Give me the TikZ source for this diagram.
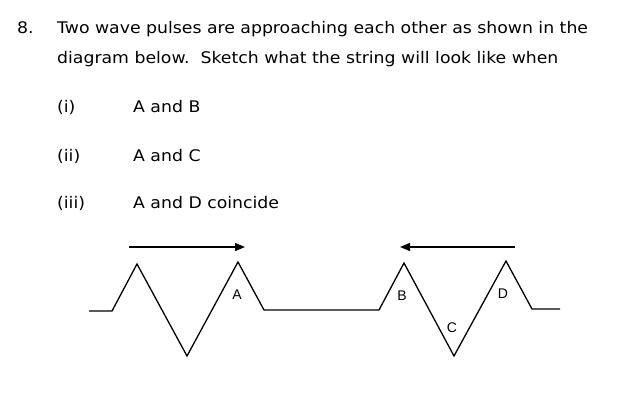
\documentclass[tikz,border=0pt]{standalone}
\usepackage{fontspec}
\setmainfont{DejaVu Sans}[FakeStretch=1.08]
\newfontfamily\labelfont{Liberation Sans}
\usetikzlibrary{arrows.meta}

\begin{document}
\begin{tikzpicture}[x=1pt, y=-1pt,
	txt/.style={anchor=base west, inner sep=0pt, font=\fontsize{16}{19}\selectfont},
	lbl/.style={inner sep=0pt, font=\labelfont\fontsize{14}{16}\selectfont},
	pulse/.style={line width=1.3pt, line join=miter},
	move/.style={line width=1.3pt, -{Triangle[length=10pt, width=8pt]}}]
	\path (0,0) to (625,406);

	% question text
	\node[txt] (num) at (17,34) {8.};
	\node[txt] (line1) at (57,34) {Two wave pulses are approaching each other as shown in the};
	\node[txt] (line2) at (57,64) {diagram below.\ \ Sketch what the string will look like when};

	\node[txt] (i) at (57,113) {(i)};
	\node[txt] (ii) at (57,162) {(ii)};
	\node[txt] (iii) at (57,209) {(iii)};
	\node[txt] (ab) at (133,113) {A and B};
	\node[txt] (ac) at (133,162) {A and C};
	\node[txt] (ad) at (133,209) {A and D coincide};

	% the string
	\draw[pulse] (89,311) -- (112,311) -- (137,264) -- (187,356) -- (238,262) -- (264,310)
		-- (379,310) -- (404,263) -- (454,356) -- (506,261) -- (532,309) -- (560,309);

	\node[lbl] (A) at (237,295) {A};
	\node[lbl] (B) at (402,296) {B};
	\node[lbl] (C) at (452,328) {C};
	\node[lbl] (D) at (503,294) {D};

	% directions of travel
	\coordinate (r1) at (129,247);
	\coordinate (r2) at (245,247);
	\coordinate (l1) at (515,247);
	\coordinate (l2) at (400,247);
	\draw[move] (r1) -- (r2);
	\draw[move] (l1) -- (l2);

\end{tikzpicture}
\end{document}
